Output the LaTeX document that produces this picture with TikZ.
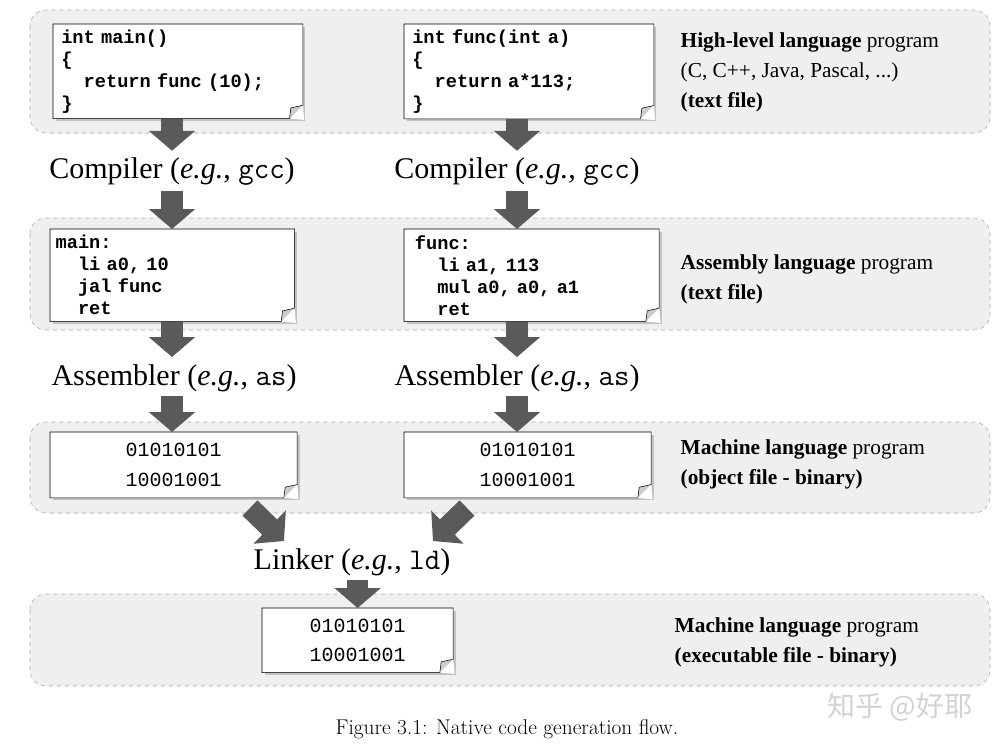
\documentclass[tikz,border=0pt]{standalone}
\usepackage{fontspec}
\newfontfamily\lab{Liberation Serif}
\newfontfamily\codefont{Liberation Mono}
\newfontfamily\cjk{Noto Sans CJK SC}
\usetikzlibrary{arrows.meta,shadows}
\definecolor{bandgray}{HTML}{EFEFEF}
\definecolor{arrowgray}{HTML}{5A5A5A}
\newcommand\ind{\phantom{xx}}
\tikzset{
  band/.style={draw=gray!70, dashed, fill=bandgray, rounded corners=12pt},
  code/.style={fill=white, drop shadow={shadow xshift=2pt, shadow yshift=-2pt, opacity=0.4},
    anchor=north west, inner sep=0pt, font=\codefont\bfseries\fontsize{14}{16.5}\selectfont},
  bigarrow/.style={draw=arrowgray, line width=16pt, -{Triangle[width=34pt,length=15pt]}},
  tool/.style={font=\lab\fontsize{22.5}{24}\selectfont},
  desc/.style={anchor=west, align=left, font=\lab\fontsize{16}{22.5}\selectfont}
}
\newcommand\fold[1]{%
  \draw (#1.north west) -- (#1.north east) -- ([yshift=10pt]#1.south east)
    -- ([xshift=-10pt]#1.south east) -- (#1.south west) -- cycle;
  \filldraw[fill=gray!40] ([yshift=10pt]#1.south east) -- ([xshift=-9pt,yshift=8pt]#1.south east)
    -- ([xshift=-10pt]#1.south east);
  \fill[white] ([yshift=10pt]#1.south east) -- ([xshift=-10pt]#1.south east)
    -- ([xshift=1pt,yshift=-1pt]#1.south east) -- cycle;
}
\begin{document}
\begin{tikzpicture}[x=0.75pt,y=-0.75pt]
\useasboundingbox (0,0) rectangle (1007,747);
% bands
\draw[band] (30,10) rectangle (990,133);
\draw[band] (30,218) rectangle (990,330);
\draw[band] (30,422) rectangle (990,513);
\draw[band] (30,594) rectangle (990,686);
% high-level
\node[code, minimum width=183pt, minimum height=68pt, text width=175pt, align=left, inner xsep=6pt, inner ysep=4pt]
  (srcA) at (53,24) {int main()\\\{\\\ind return func (10);\\\}};
\node[code, minimum width=183pt, minimum height=68pt, text width=175pt, align=left, inner xsep=6pt, inner ysep=4pt]
  (srcB) at (404,24) {int func(int a)\\\{\\\ind return a*113;\\\}};
\node[desc] (d1) at (676,72) {\textbf{High-level language} program\\(C, C++, Java, Pascal, ...)\\\textbf{(text file)}};
% compile
\node[tool] (ccA) at (172,172) {Compiler (\textit{e.g.}, \texttt{gcc})};
\node[tool] (ccB) at (517,172) {Compiler (\textit{e.g.}, \texttt{gcc})};
% assembly
\node[code, minimum width=183pt, minimum height=69pt, text width=175pt, align=left, inner xsep=4pt, inner ysep=4pt]
  (asmA) at (50,229) {main:\\\ind li a0, 10\\\ind jal func\\\ind ret};
\node[code, minimum width=183pt, minimum height=69pt, text width=175pt, align=left, inner xsep=8pt, inner ysep=4pt]
  (asmB) at (404,229) {func:\\\ind li a1, 113\\\ind mul a0, a0, a1\\\ind ret};
\node[desc] (d2) at (676,279) {\textbf{Assembly language} program\\\textbf{(text file)}};
% assemble
\node[tool] (asA) at (174,378) {Assembler (\textit{e.g.}, \texttt{as})};
\node[tool] (asB) at (517,378) {Assembler (\textit{e.g.}, \texttt{as})};
% object
\node[code, minimum width=185pt, minimum height=49pt, align=center, font=\codefont\fontsize{15}{22}\selectfont]
  (objA) at (50,432) {01010101\\10001001};
\node[code, minimum width=185pt, minimum height=49pt, align=center, font=\codefont\fontsize{15}{22}\selectfont]
  (objB) at (404,432) {01010101\\10001001};
\node[desc] (d3) at (676,464) {\textbf{Machine language} program\\\textbf{(object file - binary)}};
% link
\node[tool] (ld) at (352,562) {Linker (\textit{e.g.}, \texttt{ld})};
\node[code, minimum width=143pt, minimum height=48pt, align=center, font=\codefont\fontsize{15}{22}\selectfont]
  (exe) at (262,608) {01010101\\10001001};
\node[desc] (d4) at (670,642) {\textbf{Machine language} program\\\textbf{(executable file - binary)}};
% outlines with folded corners
\foreach \n in {srcA,srcB,asmA,asmB,objA,objB,exe} {\fold{\n}}
% arrows
\draw[bigarrow] (srcA.south -| ccA) -- ([yshift=2pt]ccA.north);
\draw[bigarrow] (srcB.south -| ccB) -- ([yshift=2pt]ccB.north);
\draw[bigarrow] (ccA.south) -- (asmA.north -| ccA);
\draw[bigarrow] (ccB.south) -- (asmB.north -| ccB);
\draw[bigarrow] (asmA.south -| ccA) -- ([yshift=2pt]asA.north -| ccA);
\draw[bigarrow] (asmB.south -| ccB) -- ([yshift=2pt]asB.north -| ccB);
\draw[bigarrow] (asA.south -| ccA) -- (objA.north -| ccA);
\draw[bigarrow] (asB.south -| ccB) -- (objB.north -| ccB);
\coordinate (lA) at (250,508);
\coordinate (lAend) at (284,541);
\coordinate (lB) at (467,508);
\coordinate (lBend) at (433,541);
\draw[bigarrow] (lA) -- (lAend);
\draw[bigarrow] (lB) -- (lBend);
\draw[bigarrow] (ld.south -| exe) -- (exe.north);
% caption and mark
\node[font=\fontsize{16}{18}\selectfont] (cap) at (507,729) {Figure 3.1: Native code generation flow.};
\node[font=\cjk\fontsize{21}{24}\selectfont, text=gray!35] (wm) at (900,707) {知乎 @好耶};
\end{tikzpicture}
\end{document}
